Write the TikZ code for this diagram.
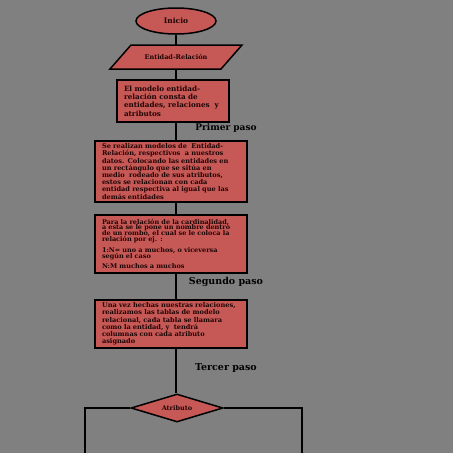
\documentclass[tikz,border=0pt]{standalone}
\usepackage{fontspec}
\setmainfont{DejaVu Serif}
\usetikzlibrary{shapes.geometric}
\definecolor{bg}{HTML}{808080}
\definecolor{boxred}{HTML}{C65855}
\definecolor{txt}{HTML}{1E0505}
\begin{document}
\begin{tikzpicture}[x=1pt,y=-1pt,
  box/.style={draw=black, line width=1.5pt, fill=boxred, rectangle, inner ysep=0pt, inner xsep=7pt, align=left, text=txt, font=\bfseries\fontsize{6.6}{7.2}\selectfont, execute at begin node={\lineskiplimit=-10pt\relax}},
  link/.style={line width=2pt, draw=black},
  sidelink/.style={line width=1.5pt, draw=black},
  steplabel/.style={font=\bfseries\fontsize{9}{10}\selectfont, text=black, inner sep=0pt},
  term/.style={draw=black, line width=1.5pt, fill=boxred, ellipse, minimum width=80pt, minimum height=26pt, inner sep=0pt, text=txt, font=\bfseries\fontsize{7.5}{8}\selectfont},
  ioshape/.style={draw=black, line width=1.5pt, fill=boxred},
  iotext/.style={rectangle, minimum width=112pt, minimum height=24pt, inner sep=0pt, text=txt, font=\bfseries\fontsize{6.5}{7}\selectfont},
  attr/.style={draw=black, line width=1.5pt, fill=boxred, diamond, aspect=3.3, minimum width=92pt, minimum height=28pt, inner sep=0pt, text=txt, font=\bfseries\fontsize{6.5}{7}\selectfont}
]
\fill[bg] (0,0) rectangle (453,453);
\useasboundingbox (0,0) rectangle (453,453);
\coordinate (spine) at (176,0);

\node[term] (inicio) at (176,21) {Inicio};
\draw[ioshape] (110,69) -- (131,45) -- (242,45) -- (221,69) -- cycle;
\node[iotext] (entrel) at (176,57) {Entidad-Relación};
\node[box, font=\bfseries\fontsize{7.2}{8.3}\selectfont, text width=98pt, minimum height=42pt] (b1) at (173,101)
 {El modelo entidad-\\relación consta de\\entidades, relaciones\ \ y\\atributos};
\node[box, text width=138pt, minimum height=61pt] (b2) at (171,171.5)
 {Se realizan modelos de\ \ Entidad-\\Relación, respectivos\ \ a nuestros\\datos. Colocando las entidades en\\un rectángulo que se sitúa en\\medio\ \ rodeado de sus atributos,\\estos se relacionan con cada\\entidad respectiva al igual que las\\demás entidades};
\node[box, font=\bfseries\fontsize{6.5}{5.8}\selectfont, text width=138pt, minimum height=58pt] (b3) at (171,244)
 {Para la relación de la cardinalidad,\\a esta se le pone un nombre dentro\\de un rombo, el cual se le coloca la\\relación por ej. :\\[5pt]1:N= uno a muchos, o viceversa\\según el caso\\[5pt]N:M muchos a muchos};
\node[box, text width=138pt, minimum height=48pt] (b4) at (171,324)
 {Una vez hechas nuestras relaciones,\\realizamos las tablas de modelo\\relacional, cada tabla se llamara\\como la entidad, y\ \ tendrá\\columnas con cada atributo\\asignado};
\node[attr] (atr) at (177,408) {Atributo};

\node[steplabel] (p1) at (226,128) {Primer paso};
\node[steplabel, font=\bfseries\fontsize{9.5}{10}\selectfont] (p2) at (226,282) {Segundo paso};
\node[steplabel, font=\bfseries\fontsize{9.5}{10}\selectfont] (p3) at (226,368) {Tercer paso};

\draw[link] (inicio.south) -- (entrel.north);
\draw[link] (entrel.south) -- (b1.north -| spine);
\draw[link] (b1.south -| spine) -- (b2.north -| spine);
\draw[link] (b2.south -| spine) -- (b3.north -| spine);
\draw[link] (b3.south -| spine) -- (b4.north -| spine);
\draw[link] (b4.south -| spine) -- (atr.north -| spine);

\coordinate (lc) at (85,408);
\coordinate (lb) at (85,453);
\coordinate (rc) at (302,408);
\coordinate (rb) at (302,453);
\draw[sidelink] (atr.west) -- (lc) -- (lb);
\draw[sidelink] (atr.east) -- (rc) -- (rb);
\end{tikzpicture}
\end{document}
